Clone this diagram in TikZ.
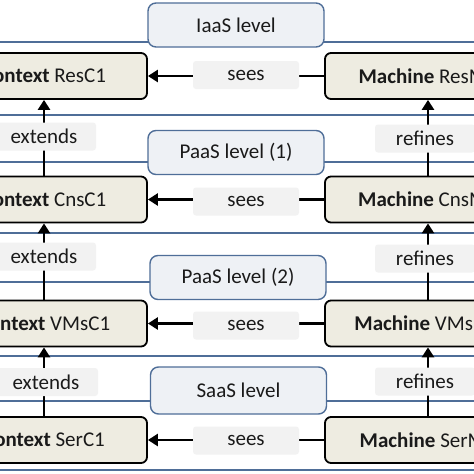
\documentclass[tikz,border=0pt]{standalone}
\usepackage{fontspec}
\setmainfont{Carlito}
\usetikzlibrary{arrows.meta}
\definecolor{framecol}{HTML}{4F6E98}
\definecolor{lvlfill}{HTML}{EEF1F5}
\definecolor{boxfill}{HTML}{EEECE1}
\definecolor{lblfill}{HTML}{F2F2F2}
\definecolor{txt}{HTML}{1A1A1A}
\begin{document}
\begin{tikzpicture}[x=1pt,y=-1pt,
  frame/.style={draw=framecol,line width=1.4pt,fill=white},
  lvl/.style={draw=framecol,line width=1.4pt,fill=lvlfill,rounded corners=8pt,
    minimum width=176pt,minimum height=44pt,inner sep=0pt,font=\fontsize{21}{24}\selectfont,text=txt},
  mbox/.style={draw=black,line width=1.8pt,fill=boxfill,rounded corners=6pt,
    minimum width=206pt,minimum height=46pt,inner sep=0pt,font=\fontsize{21}{24}\selectfont,text=txt},
  lbl/.style={fill=lblfill,rounded corners=3pt,minimum height=28pt,inner sep=0pt,
    font=\fontsize{21}{24}\selectfont,text=txt},
  arr/.style={draw=black,line width=2.8pt,-{Triangle[length=10pt,width=12pt]}}]
\clip (0,0) rectangle (474,474);
\fill[white] (0,0) rectangle (474,474);
% frames
\draw[frame] (-80,42) rectangle (560,115);
\draw[frame] (-80,162) rectangle (560,233);
\draw[frame] (-80,282) rectangle (560,356);
\draw[frame] (-80,401) rectangle (560,470);
% level labels
\node[lvl] (l1) at (236,25) {IaaS level};
\node[lvl] (l2) at (236,152.5) {PaaS level (1)};
\node[lvl] (l3) at (238,277.5) {PaaS level (2)};
\node[lvl,minimum height=47pt] (l4) at (238.5,390.5) {SaaS level};
% boxes
\node[mbox] (c1) at (44,76) {\textbf{Context} ResC1};
\node[mbox] (m1) at (428,76) {\textbf{Machine} ResM1};
\node[mbox] (c2) at (44,199.5) {\textbf{Context} CnsC1};
\node[mbox] (m2) at (428,199.5) {\textbf{Machine} CnsM1};
\node[mbox] (c3) at (44,323.5) {\textbf{Context} VMsC1};
\node[mbox] (m3) at (428,323.5) {\textbf{Machine} VMsM1};
\node[mbox] (c4) at (44,440) {\textbf{Context} SerC1};
\node[mbox] (m4) at (428,440) {\textbf{Machine} SerM1};
% arrows
\draw[arr] (m1.west) -- (c1.east);
\draw[arr] (m2.west) -- (c2.east);
\draw[arr] (m3.west) -- (c3.east);
\draw[arr] (m4.west) -- (c4.east);
\draw[arr] (c2.north) -- (c1.south);
\draw[arr] (c3.north) -- (c2.south);
\draw[arr] (c4.north) -- (c3.south);
\draw[arr] (m2.north) -- (m1.south);
\draw[arr] (m3.north) -- (m2.south);
\draw[arr] (m4.north) -- (m3.south);
% labels
\node[lbl,minimum width=106pt] (s1) at (246,75) {sees};
\node[lbl,minimum width=106pt] (s2) at (246,201.5) {sees};
\node[lbl,minimum width=106pt] (s3) at (246,325.5) {sees};
\node[lbl,minimum width=106pt] (s4) at (246,440.5) {sees};
\node[lbl,minimum width=104pt] (e1) at (44,136.5) {extends};
\node[lbl,minimum width=104pt] (e2) at (44,256.5) {extends};
\node[lbl,minimum width=104pt] (e3) at (46,382) {extends};
\node[lbl,minimum width=100pt] (r1) at (425,138.5) {refines};
\node[lbl,minimum width=100pt] (r2) at (425,258.5) {refines};
\node[lbl,minimum width=100pt] (r3) at (425,381.5) {refines};
\end{tikzpicture}
\end{document}
